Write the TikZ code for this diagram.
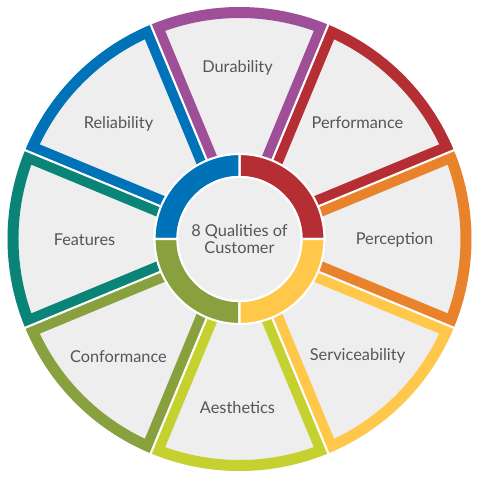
\documentclass[tikz,border=0pt]{standalone}
\usepackage{fontspec}
\setmainfont{Lato}
\definecolor{qpurple}{HTML}{9E4F98}
\definecolor{qred}{HTML}{B52E33}
\definecolor{qorange}{HTML}{E8822B}
\definecolor{qyellow}{HTML}{FFC84A}
\definecolor{qlime}{HTML}{C4D12E}
\definecolor{qolive}{HTML}{88A03E}
\definecolor{qteal}{HTML}{0B8478}
\definecolor{qblue}{HTML}{0072B8}
\definecolor{qgray}{HTML}{EEEEEE}
\definecolor{qtext}{HTML}{555555}
\begin{document}
\begin{tikzpicture}[x=0.02cm,y=0.02cm,
    label/.style={text=qtext,font=\fontsize{9.3}{9.6}\selectfont,align=center},
    gap/.style={white,line width=1.2pt}]
    \useasboundingbox (-239.5,-241) rectangle (240.5,239);
    % outer segments
    \foreach \a/\c/\p/\t [count=\i] in {90/qpurple/{(-2,171)}/Durability,45/qred/{(118,116)}/Performance,
        0/qorange/{(155,-1)}/Perception,-45/qyellow/{(118,-117)}/Serviceability,-90/qlime/{(-2,-169)}/Aesthetics,
        -135/qolive/{(-121,-118)}/Conformance,180/qteal/{(-155,-1)}/Features,135/qblue/{(-121,115)}/Reliability} {
      \begin{scope}
        \clip (0,0) -- (\a-22.5:232) arc[start angle=\a-22.5,end angle=\a+22.5,radius=232] -- cycle;
        \fill[qgray] (0,0) -- (\a-22.5:232) arc[start angle=\a-22.5,end angle=\a+22.5,radius=232] -- cycle;
        \draw[\c,line width=12.5pt,line join=miter] (0,0) -- (\a-22.5:232)
          arc[start angle=\a-22.5,end angle=\a+22.5,radius=232] -- cycle;
      \end{scope}
      \node[label] (q\i) at \p {\t};
    }
    \foreach \a in {22.5,67.5,...,337.5}
      \draw[gap] (0,0) -- (\a:236);
    % centre ring
    \foreach \s/\c in {0/qred,90/qblue,180/qolive,270/qyellow}
      \fill[\c,draw=white,line width=1.2pt] (\s:85) arc[start angle=\s,end angle=\s+90,radius=85]
        -- (\s+90:62) arc[start angle=\s+90,end angle=\s,radius=62] -- cycle;
    \node[circle,fill=qgray,draw=white,line width=1.2pt,minimum size=2.48cm,label] (core) at (0,0)
      {8 Qualities of\\Customer};
\end{tikzpicture}
\end{document}
